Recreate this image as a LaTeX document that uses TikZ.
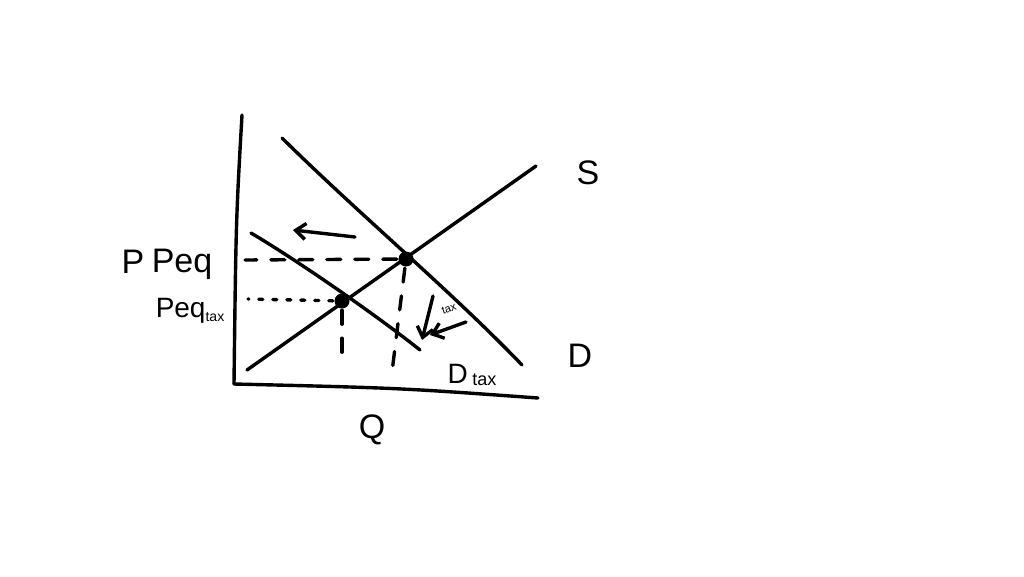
\documentclass[tikz,border=0pt]{standalone}
\usepackage{fontspec}
\setmainfont{Liberation Sans}
\usetikzlibrary{arrows.meta}

\begin{document}
\begin{tikzpicture}[x=1pt,y=-1pt,line width=3.4pt,line cap=round]
\useasboundingbox (0,0) rectangle (1024,576);
% axes and curves
\coordinate (ytop) at (242,115);
\coordinate (O) at (234,384);
\coordinate (xend) at (538,398);
\coordinate (Dtop) at (282,138);
\coordinate (Dbot) at (522,365);
\coordinate (Sbot) at (247,370);
\coordinate (Stop) at (536,166);
\coordinate (Ttop) at (251,233);
\coordinate (Tbot) at (420,350);
\begin{scope}[every node/.style={circle,fill=black,inner sep=0pt,minimum size=15pt}]
    \node (E) at (406,259) {};
    \node (Et) at (342,301) {};
\end{scope}
\draw (ytop) .. controls (236,220) .. (O);
\draw (O) .. controls (400,388) .. (xend);
\draw (Dtop) .. controls (360,215) and (450,290) .. (Dbot);
\draw (Sbot) -- (Stop);
\draw (Ttop) .. controls (300,262) and (380,318) .. (Tbot);
% dashed guides
\coordinate (pe) at (245,260);
\coordinate (pt) at (248,299);
\coordinate (qe) at (392,372);
\coordinate (qt) at (342,360);
\begin{scope}[every path/.style={dash pattern=on 14pt off 14pt}]
    \draw (E) -- (pe);
    \draw (E) -- (qe);
    \draw (Et) -- (qt);
\end{scope}
\draw[dash pattern=on 4pt off 10pt] (Et) -- (pt);
% shift arrows
\begin{scope}[>={Straight Barb[length=10pt,width=16pt]}]
    \coordinate (a1) at (355,237);
    \coordinate (a2) at (293,230);
    \draw[->] (a1) -- (a2);
    \coordinate (b1) at (433,296);
    \coordinate (b2) at (422,340);
    \draw[->] (b1) -- (b2);
    \coordinate (c1) at (466,322);
    \coordinate (c2) at (430,335);
    \draw[->] (c1) -- (c2);
\end{scope}
% labels
\begin{scope}[every node/.style={font=\fontsize{34}{36}\selectfont}]
    \node (S) at (588,173) {S};
    \node (D) at (580,356) {D};
    \node (Q) at (372,430) {Q};
    \node (P) at (133,262) {P};
    \node (Peq) at (182,264) {Peq};
    \node (Peqt) at (190,311) {\fontsize{28}{30}\selectfont Peq\raisebox{-4pt}{\fontsize{14}{16}\selectfont tax}};
    \node (Dtax) at (472,375) {\fontsize{28}{30}\selectfont D\,\raisebox{-2pt}{\fontsize{18}{20}\selectfont tax}};
    \node[rotate=20,inner sep=1pt,font=\fontsize{11}{12}\selectfont] (tax) at (449,309) {tax};
\end{scope}
\end{tikzpicture}
\end{document}
